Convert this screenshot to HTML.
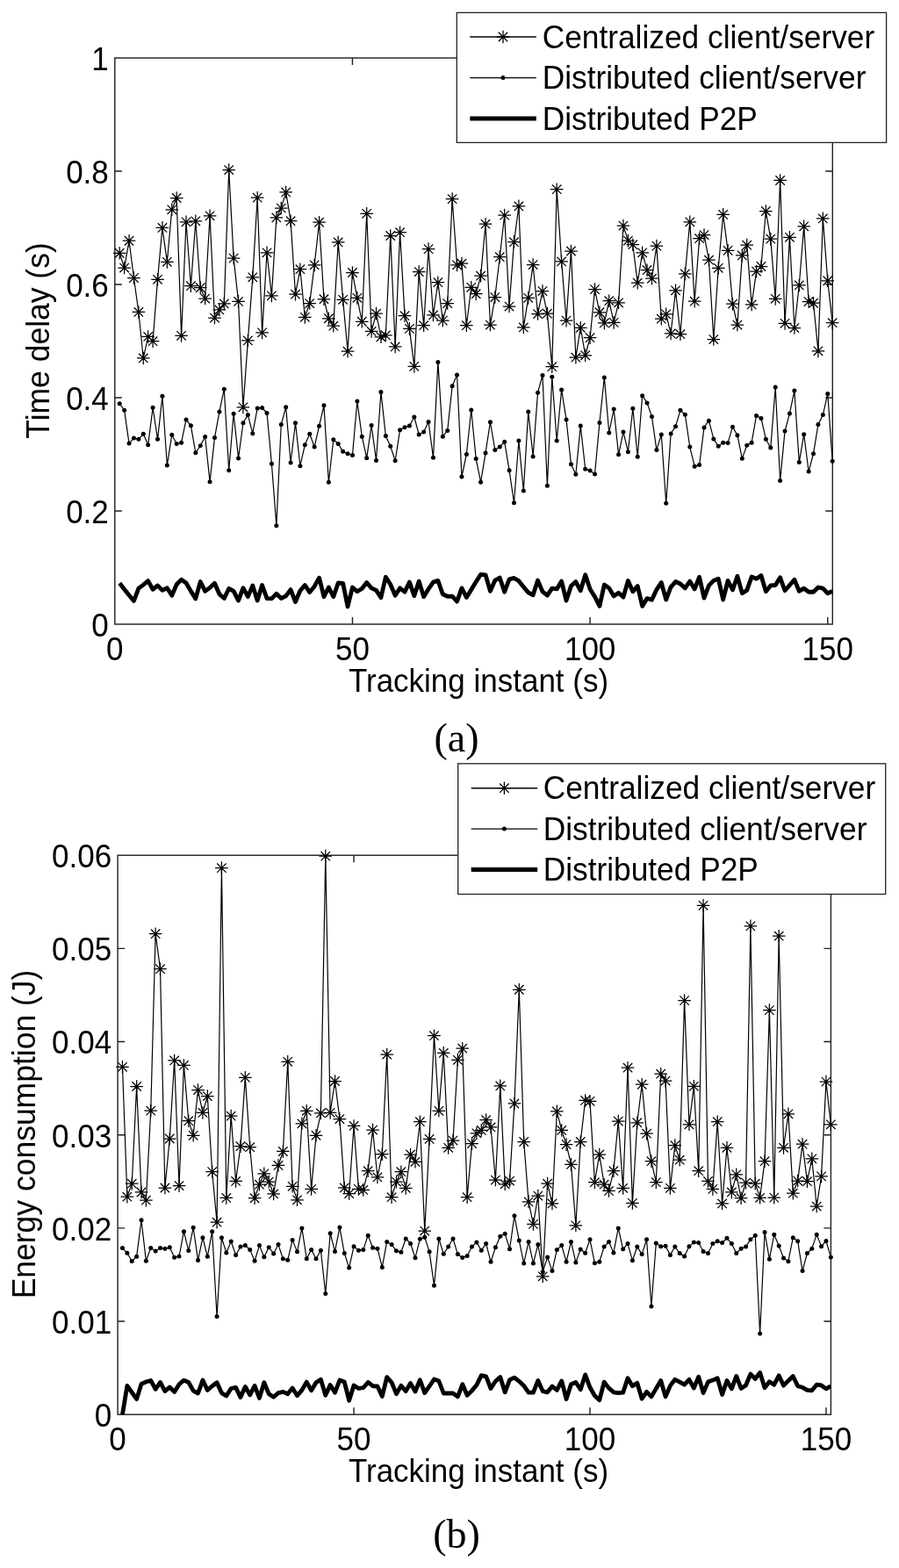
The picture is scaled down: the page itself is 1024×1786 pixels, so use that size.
<!DOCTYPE html>
<html><head><meta charset="utf-8"><title>Time delay and energy consumption</title>
<style>html,body{margin:0;padding:0;background:#fff;}svg{display:block;}</style></head>
<body><svg width="1024" height="1786" viewBox="0 0 1024 1786" font-family="'Liberation Sans', sans-serif" fill="#000">
<rect width="1024" height="1786" fill="#fff"/>
<defs>
<clipPath id="ca"><rect x="130.8" y="66" width="817.5" height="645"/></clipPath>
<clipPath id="cb"><rect x="134.1" y="974.2" width="812.3" height="637"/></clipPath>
</defs>
<g stroke="#1e1e1e" stroke-width="1.4" fill="none"><path d="M401.45 711V703M401.45 66V74"/><path d="M672.1 711V703M672.1 66V74"/><path d="M942.75 711V703M942.75 66V74"/><path d="M130.8 582H138.8M948.3 582H940.3"/><path d="M130.8 453H138.8M948.3 453H940.3"/><path d="M130.8 324H138.8M948.3 324H940.3"/><path d="M130.8 195H138.8M948.3 195H940.3"/><rect x="130.8" y="66" width="817.5" height="645" fill="none"/></g><g font-size="35"><text transform="translate(123.8 724.8) scale(1 1.04)" text-anchor="end">0</text><text transform="translate(123.8 595.8) scale(1 1.04)" text-anchor="end">0.2</text><text transform="translate(123.8 466.8) scale(1 1.04)" text-anchor="end">0.4</text><text transform="translate(123.8 337.8) scale(1 1.04)" text-anchor="end">0.6</text><text transform="translate(123.8 208.8) scale(1 1.04)" text-anchor="end">0.8</text><text transform="translate(123.8 79.8) scale(1 1.04)" text-anchor="end">1</text><text transform="translate(130.8 751.5) scale(1 1.04)" text-anchor="middle">0</text><text transform="translate(401.45 751.5) scale(1 1.04)" text-anchor="middle">50</text><text transform="translate(672.1 751.5) scale(1 1.04)" text-anchor="middle">100</text><text transform="translate(942.75 751.5) scale(1 1.04)" text-anchor="middle">150</text><text transform="translate(545 788) scale(1 1.04)" text-anchor="middle">Tracking instant (s)</text><text transform="translate(56 388) rotate(-90) scale(1 1.04)" text-anchor="middle" font-size="35.5">Time delay (s)</text><text x="520" y="855.6" text-anchor="middle" font-family="'Liberation Serif', serif" font-size="46">(a)</text></g>
<g clip-path="url(#ca)"><polyline points="136.21,288.25 141.63,305.05 147.04,274.24 152.45,316.54 157.87,355.47 163.28,407.98 168.69,383.47 174.1,388.65 179.52,318.36 184.93,259.4 190.34,298.33 195.76,238.82 201.17,225.51 206.58,382.35 212,252.82 217.41,325.64 222.82,251.84 228.23,327.74 233.65,340.06 239.06,245.82 244.47,362.05 249.89,352.94 255.3,345.94 260.71,193.58 266.12,294.13 271.54,343.42 276.95,463.85 282.36,387.95 287.78,315.84 293.19,225.23 298.6,378.85 304.02,287.83 309.43,336.84 314.84,247.92 320.25,237.13 325.67,218.93 331.08,251.7 336.49,335.16 341.91,306.73 347.32,361.35 352.73,345.52 358.15,301.83 363.56,253.24 368.97,340.76 374.38,362.75 379.8,371.15 385.21,275.92 390.62,341.32 396.04,400.14 401.45,310.51 406.86,339.36 412.28,366.25 417.69,243.3 423.1,377.45 428.52,357.15 433.93,383.75 439.34,381.93 444.75,268.5 450.17,394.96 455.58,264.72 460.99,359.67 466.41,374.37 471.82,417.36 477.23,309.53 482.65,370.73 488.06,283.63 493.47,358.97 498.88,321.72 504.3,365.13 509.71,345.52 515.12,226.63 520.54,301.83 525.95,300.15 531.36,370.73 536.78,327.32 542.19,334.74 547.6,314.15 553.01,255.2 558.43,370.03 563.84,338.52 569.25,292.73 574.67,245.12 580.08,349.02 585.49,275.64 590.9,234.89 596.32,372.97 601.73,339.36 607.14,301.55 612.56,357.57 617.97,331.52 623.38,357.15 628.8,417.64 634.21,215.71 639.62,297.91 645.04,365.13 650.45,286.01 655.86,407.14 661.27,373.25 666.69,404.76 672.1,384.73 677.51,329.56 682.93,355.75 688.34,367.93 693.75,342.72 699.16,367.37 704.58,344.82 709.99,257.02 715.4,274.1 720.82,278.73 726.23,322.14 731.64,287.83 737.06,307.71 742.47,317.24 747.88,280.13 753.3,363.17 758.71,357.85 764.12,379.97 769.53,330.82 774.95,380.67 780.36,311.91 785.77,252.82 791.19,343.14 796.6,271.72 802.01,267.52 807.42,296.23 812.84,386.55 818.25,305.33 823.66,244.42 829.08,285.31 834.49,346.22 839.9,370.03 845.32,290.91 850.73,279.15 856.14,346.92 861.56,309.11 866.97,303.51 872.38,240.5 877.79,272.14 883.21,340.34 888.62,205.49 894.03,368.35 899.45,270.32 904.86,373.53 910.27,324.94 915.68,257.86 921.1,343.56 926.51,345.24 931.92,399.86 937.34,248.9 942.75,319.76 948.16,367.65" fill="none" stroke="#000" stroke-width="1.2" stroke-linejoin="round"/><polyline points="136.21,459.74 141.63,467.3 147.04,505.11 152.45,498.95 157.87,500.35 163.28,494.33 168.69,506.65 174.1,464.22 179.52,500.35 184.93,451.34 190.34,530.04 195.76,495.31 201.17,505.53 206.58,504.13 212,477.94 217.41,484.8 222.82,515.75 228.23,507.63 233.65,497.55 239.06,548.66 244.47,498.53 249.89,469.12 255.3,443.21 260.71,535.64 266.12,471.22 271.54,521.91 276.95,481.72 282.36,472.62 287.78,493.63 293.19,464.92 298.6,464.5 304.02,470.52 309.43,528.36 314.84,598.65 320.25,483.54 325.67,463.8 331.08,526.96 336.49,481.72 341.91,530.74 347.32,506.65 352.73,494.33 358.15,509.03 363.56,485.22 368.97,461.84 374.38,549.22 379.8,500.63 385.21,505.53 390.62,514.35 396.04,516.73 401.45,518.55 406.86,456.94 412.28,497.13 417.69,521.63 423.1,484.52 428.52,524.43 433.93,446.43 439.34,496.43 444.75,508.33 450.17,524.72 455.58,489.71 460.99,486.63 466.41,484.94 471.82,475 477.23,495.03 482.65,491.95 488.06,480.6 493.47,521.35 498.88,412.41 504.3,497.13 509.71,490.41 515.12,439.71 520.54,427.11 525.95,543.06 531.36,517.43 536.78,467.02 542.19,522.61 547.6,549.22 553.01,516.03 558.43,480.74 563.84,512.53 569.25,509.03 574.67,503.15 580.08,535.64 585.49,572.75 590.9,502.03 596.32,559.02 601.73,469.12 607.14,519.95 612.56,447.13 617.97,427.53 623.38,553.14 628.8,429.21 634.21,502.03 639.62,443.91 645.04,477.94 650.45,528.64 655.86,540.26 661.27,484.94 666.69,534.24 672.1,535.92 677.51,540.12 682.93,481.44 688.34,429.91 693.75,492.93 699.16,466.04 704.58,517.85 709.99,491.95 715.4,514.63 720.82,465.2 726.23,520.23 731.64,450.64 737.06,458.9 742.47,474.44 747.88,512.53 753.3,495.03 758.71,573.17 764.12,494.05 769.53,485.64 774.95,467.3 780.36,472.34 785.77,509.03 791.19,531.16 796.6,529.62 802.01,486.91 807.42,479.2 812.84,499.93 818.25,508.33 823.66,504.13 829.08,504.41 834.49,486.35 839.9,495.73 845.32,522.33 850.73,507.21 856.14,504.13 861.56,473.46 866.97,476.4 872.38,500.21 877.79,510.01 883.21,441.11 888.62,547.54 894.03,491.11 899.45,470.94 904.86,445.03 910.27,526.54 915.68,494.75 921.1,537.04 926.51,516.73 931.92,483.54 937.34,472.62 942.75,448.54 948.16,525.14" fill="none" stroke="#000" stroke-width="1.2" stroke-linejoin="round"/><polyline points="136.21,664.3 141.63,671.18 147.04,677.92 152.45,684.51 157.87,670.15 163.28,666.05 168.69,661.66 174.1,671.33 179.52,666.93 184.93,672.35 190.34,669.72 195.76,678.21 201.17,665.76 206.58,660.19 212,664 217.41,673.38 222.82,681.87 228.23,662.54 233.65,673.38 239.06,669.42 244.47,664.3 249.89,676.75 255.3,681.58 260.71,670.45 266.12,673.38 271.54,684.07 276.95,669.72 282.36,679.68 287.78,666.93 293.19,684.07 298.6,666.49 304.02,681.58 309.43,681.87 314.84,676.31 320.25,681.58 325.67,678.94 331.08,671.62 336.49,685.53 341.91,672.79 347.32,666.49 352.73,674.55 358.15,667.96 363.56,658.14 368.97,679.68 374.38,668.98 379.8,679.68 385.21,664 390.62,664.3 396.04,690.95 401.45,668.98 406.86,673.82 412.28,670.45 417.69,663.56 423.1,669.86 428.52,672.35 433.93,680.7 439.34,657.26 444.75,665.76 450.17,678.21 455.58,669.86 460.99,674.26 466.41,663.12 471.82,678.65 477.23,662.1 482.65,679.68 488.06,670.89 493.47,663.12 498.88,661.37 504.3,676.75 509.71,679.24 515.12,679.24 520.54,685.1 525.95,669.86 531.36,680.41 536.78,671.62 542.19,662.83 547.6,654.33 553.01,654.77 558.43,673.38 563.84,661.07 569.25,658 574.67,674.26 580.08,659.9 585.49,658.44 590.9,661.66 596.32,668.4 601.73,674.84 607.14,677.77 612.56,661.07 617.97,673.82 623.38,678.21 628.8,670.15 634.21,670.89 639.62,662.1 645.04,684.07 650.45,667.52 655.86,662.54 661.27,672.79 666.69,654.77 672.1,670.89 677.51,679.68 682.93,690.37 688.34,666.05 693.75,669.86 699.16,678.94 704.58,675.28 709.99,680.11 715.4,661.51 720.82,673.82 726.23,667.52 731.64,690.37 737.06,681.58 742.47,683.34 747.88,671.62 753.3,663.56 758.71,683.04 764.12,668.69 769.53,662.54 774.95,665.03 780.36,669.86 785.77,662.1 791.19,670.89 796.6,657.26 802.01,681.14 807.42,666.93 812.84,661.37 818.25,659.17 823.66,683.04 829.08,661.37 834.49,671.91 839.9,656.24 845.32,675.72 850.73,672.35 856.14,656.97 861.56,659.17 866.97,655.51 872.38,673.82 877.79,666.93 883.21,666.49 888.62,657.7 894.03,672.79 899.45,666.49 904.86,660.19 910.27,673.38 915.68,670.15 921.1,674.26 926.51,674.26 931.92,668.98 937.34,670.15 942.75,675.72 948.16,673.38" fill="none" stroke="#000" stroke-width="4.8" stroke-linejoin="round"/></g>
<path d="M128.91 288.25h14.6M136.21 280.95v14.6M131.01 283.05l10.4 10.4M131.01 293.45l10.4 -10.4M134.33 305.05h14.6M141.63 297.75v14.6M136.43 299.85l10.4 10.4M136.43 310.25l10.4 -10.4M139.74 274.24h14.6M147.04 266.94v14.6M141.84 269.04l10.4 10.4M141.84 279.44l10.4 -10.4M145.15 316.54h14.6M152.45 309.24v14.6M147.25 311.34l10.4 10.4M147.25 321.74l10.4 -10.4M150.56 355.47h14.6M157.87 348.17v14.6M152.67 350.27l10.4 10.4M152.67 360.67l10.4 -10.4M155.98 407.98h14.6M163.28 400.68v14.6M158.08 402.78l10.4 10.4M158.08 413.18l10.4 -10.4M161.39 383.47h14.6M168.69 376.17v14.6M163.49 378.27l10.4 10.4M163.49 388.67l10.4 -10.4M166.8 388.65h14.6M174.1 381.35v14.6M168.9 383.45l10.4 10.4M168.9 393.85l10.4 -10.4M172.22 318.36h14.6M179.52 311.06v14.6M174.32 313.16l10.4 10.4M174.32 323.56l10.4 -10.4M177.63 259.4h14.6M184.93 252.1v14.6M179.73 254.2l10.4 10.4M179.73 264.6l10.4 -10.4M183.04 298.33h14.6M190.34 291.03v14.6M185.14 293.13l10.4 10.4M185.14 303.53l10.4 -10.4M188.46 238.82h14.6M195.76 231.52v14.6M190.56 233.62l10.4 10.4M190.56 244.02l10.4 -10.4M193.87 225.51h14.6M201.17 218.21v14.6M195.97 220.31l10.4 10.4M195.97 230.71l10.4 -10.4M199.28 382.35h14.6M206.58 375.05v14.6M201.38 377.15l10.4 10.4M201.38 387.55l10.4 -10.4M204.69 252.82h14.6M212 245.52v14.6M206.8 247.62l10.4 10.4M206.8 258.02l10.4 -10.4M210.11 325.64h14.6M217.41 318.34v14.6M212.21 320.44l10.4 10.4M212.21 330.84l10.4 -10.4M215.52 251.84h14.6M222.82 244.54v14.6M217.62 246.64l10.4 10.4M217.62 257.04l10.4 -10.4M220.93 327.74h14.6M228.23 320.44v14.6M223.03 322.54l10.4 10.4M223.03 332.94l10.4 -10.4M226.35 340.06h14.6M233.65 332.76v14.6M228.45 334.86l10.4 10.4M228.45 345.26l10.4 -10.4M231.76 245.82h14.6M239.06 238.52v14.6M233.86 240.62l10.4 10.4M233.86 251.02l10.4 -10.4M237.17 362.05h14.6M244.47 354.75v14.6M239.27 356.85l10.4 10.4M239.27 367.25l10.4 -10.4M242.59 352.94h14.6M249.89 345.64v14.6M244.69 347.74l10.4 10.4M244.69 358.14l10.4 -10.4M248 345.94h14.6M255.3 338.64v14.6M250.1 340.74l10.4 10.4M250.1 351.14l10.4 -10.4M253.41 193.58h14.6M260.71 186.28v14.6M255.51 188.38l10.4 10.4M255.51 198.78l10.4 -10.4M258.82 294.13h14.6M266.12 286.83v14.6M260.93 288.93l10.4 10.4M260.93 299.33l10.4 -10.4M264.24 343.42h14.6M271.54 336.12v14.6M266.34 338.22l10.4 10.4M266.34 348.62l10.4 -10.4M269.65 463.85h14.6M276.95 456.55v14.6M271.75 458.65l10.4 10.4M271.75 469.05l10.4 -10.4M275.06 387.95h14.6M282.36 380.65v14.6M277.16 382.75l10.4 10.4M277.16 393.15l10.4 -10.4M280.48 315.84h14.6M287.78 308.54v14.6M282.58 310.64l10.4 10.4M282.58 321.04l10.4 -10.4M285.89 225.23h14.6M293.19 217.93v14.6M287.99 220.03l10.4 10.4M287.99 230.43l10.4 -10.4M291.3 378.85h14.6M298.6 371.55v14.6M293.4 373.65l10.4 10.4M293.4 384.05l10.4 -10.4M296.72 287.83h14.6M304.02 280.53v14.6M298.82 282.63l10.4 10.4M298.82 293.03l10.4 -10.4M302.13 336.84h14.6M309.43 329.54v14.6M304.23 331.64l10.4 10.4M304.23 342.04l10.4 -10.4M307.54 247.92h14.6M314.84 240.62v14.6M309.64 242.72l10.4 10.4M309.64 253.12l10.4 -10.4M312.95 237.13h14.6M320.25 229.83v14.6M315.06 231.93l10.4 10.4M315.06 242.33l10.4 -10.4M318.37 218.93h14.6M325.67 211.63v14.6M320.47 213.73l10.4 10.4M320.47 224.13l10.4 -10.4M323.78 251.7h14.6M331.08 244.4v14.6M325.88 246.5l10.4 10.4M325.88 256.9l10.4 -10.4M329.19 335.16h14.6M336.49 327.86v14.6M331.29 329.96l10.4 10.4M331.29 340.36l10.4 -10.4M334.61 306.73h14.6M341.91 299.43v14.6M336.71 301.53l10.4 10.4M336.71 311.93l10.4 -10.4M340.02 361.35h14.6M347.32 354.05v14.6M342.12 356.15l10.4 10.4M342.12 366.55l10.4 -10.4M345.43 345.52h14.6M352.73 338.22v14.6M347.53 340.32l10.4 10.4M347.53 350.72l10.4 -10.4M350.85 301.83h14.6M358.15 294.53v14.6M352.95 296.63l10.4 10.4M352.95 307.03l10.4 -10.4M356.26 253.24h14.6M363.56 245.94v14.6M358.36 248.04l10.4 10.4M358.36 258.44l10.4 -10.4M361.67 340.76h14.6M368.97 333.46v14.6M363.77 335.56l10.4 10.4M363.77 345.96l10.4 -10.4M367.08 362.75h14.6M374.38 355.45v14.6M369.19 357.55l10.4 10.4M369.19 367.95l10.4 -10.4M372.5 371.15h14.6M379.8 363.85v14.6M374.6 365.95l10.4 10.4M374.6 376.35l10.4 -10.4M377.91 275.92h14.6M385.21 268.62v14.6M380.01 270.72l10.4 10.4M380.01 281.12l10.4 -10.4M383.32 341.32h14.6M390.62 334.02v14.6M385.42 336.12l10.4 10.4M385.42 346.52l10.4 -10.4M388.74 400.14h14.6M396.04 392.84v14.6M390.84 394.94l10.4 10.4M390.84 405.34l10.4 -10.4M394.15 310.51h14.6M401.45 303.21v14.6M396.25 305.31l10.4 10.4M396.25 315.71l10.4 -10.4M399.56 339.36h14.6M406.86 332.06v14.6M401.66 334.16l10.4 10.4M401.66 344.56l10.4 -10.4M404.98 366.25h14.6M412.28 358.95v14.6M407.08 361.05l10.4 10.4M407.08 371.45l10.4 -10.4M410.39 243.3h14.6M417.69 236v14.6M412.49 238.1l10.4 10.4M412.49 248.5l10.4 -10.4M415.8 377.45h14.6M423.1 370.15v14.6M417.9 372.25l10.4 10.4M417.9 382.65l10.4 -10.4M421.22 357.15h14.6M428.52 349.85v14.6M423.32 351.95l10.4 10.4M423.32 362.35l10.4 -10.4M426.63 383.75h14.6M433.93 376.45v14.6M428.73 378.55l10.4 10.4M428.73 388.95l10.4 -10.4M432.04 381.93h14.6M439.34 374.63v14.6M434.14 376.73l10.4 10.4M434.14 387.13l10.4 -10.4M437.45 268.5h14.6M444.75 261.2v14.6M439.55 263.3l10.4 10.4M439.55 273.7l10.4 -10.4M442.87 394.96h14.6M450.17 387.66v14.6M444.97 389.76l10.4 10.4M444.97 400.16l10.4 -10.4M448.28 264.72h14.6M455.58 257.42v14.6M450.38 259.52l10.4 10.4M450.38 269.92l10.4 -10.4M453.69 359.67h14.6M460.99 352.37v14.6M455.79 354.47l10.4 10.4M455.79 364.87l10.4 -10.4M459.11 374.37h14.6M466.41 367.07v14.6M461.21 369.17l10.4 10.4M461.21 379.57l10.4 -10.4M464.52 417.36h14.6M471.82 410.06v14.6M466.62 412.16l10.4 10.4M466.62 422.56l10.4 -10.4M469.93 309.53h14.6M477.23 302.23v14.6M472.03 304.33l10.4 10.4M472.03 314.73l10.4 -10.4M475.35 370.73h14.6M482.65 363.43v14.6M477.45 365.53l10.4 10.4M477.45 375.93l10.4 -10.4M480.76 283.63h14.6M488.06 276.33v14.6M482.86 278.43l10.4 10.4M482.86 288.83l10.4 -10.4M486.17 358.97h14.6M493.47 351.67v14.6M488.27 353.77l10.4 10.4M488.27 364.17l10.4 -10.4M491.58 321.72h14.6M498.88 314.42v14.6M493.68 316.52l10.4 10.4M493.68 326.92l10.4 -10.4M497 365.13h14.6M504.3 357.83v14.6M499.1 359.93l10.4 10.4M499.1 370.33l10.4 -10.4M502.41 345.52h14.6M509.71 338.22v14.6M504.51 340.32l10.4 10.4M504.51 350.72l10.4 -10.4M507.82 226.63h14.6M515.12 219.33v14.6M509.92 221.43l10.4 10.4M509.92 231.83l10.4 -10.4M513.24 301.83h14.6M520.54 294.53v14.6M515.34 296.63l10.4 10.4M515.34 307.03l10.4 -10.4M518.65 300.15h14.6M525.95 292.85v14.6M520.75 294.95l10.4 10.4M520.75 305.35l10.4 -10.4M524.06 370.73h14.6M531.36 363.43v14.6M526.16 365.53l10.4 10.4M526.16 375.93l10.4 -10.4M529.48 327.32h14.6M536.78 320.02v14.6M531.58 322.12l10.4 10.4M531.58 332.52l10.4 -10.4M534.89 334.74h14.6M542.19 327.44v14.6M536.99 329.54l10.4 10.4M536.99 339.94l10.4 -10.4M540.3 314.15h14.6M547.6 306.85v14.6M542.4 308.95l10.4 10.4M542.4 319.35l10.4 -10.4M545.71 255.2h14.6M553.01 247.9v14.6M547.81 250l10.4 10.4M547.81 260.4l10.4 -10.4M551.13 370.03h14.6M558.43 362.73v14.6M553.23 364.83l10.4 10.4M553.23 375.23l10.4 -10.4M556.54 338.52h14.6M563.84 331.22v14.6M558.64 333.32l10.4 10.4M558.64 343.72l10.4 -10.4M561.95 292.73h14.6M569.25 285.43v14.6M564.05 287.53l10.4 10.4M564.05 297.93l10.4 -10.4M567.37 245.12h14.6M574.67 237.82v14.6M569.47 239.92l10.4 10.4M569.47 250.32l10.4 -10.4M572.78 349.02h14.6M580.08 341.72v14.6M574.88 343.82l10.4 10.4M574.88 354.22l10.4 -10.4M578.19 275.64h14.6M585.49 268.34v14.6M580.29 270.44l10.4 10.4M580.29 280.84l10.4 -10.4M583.61 234.89h14.6M590.9 227.59v14.6M585.7 229.69l10.4 10.4M585.7 240.09l10.4 -10.4M589.02 372.97h14.6M596.32 365.67v14.6M591.12 367.77l10.4 10.4M591.12 378.17l10.4 -10.4M594.43 339.36h14.6M601.73 332.06v14.6M596.53 334.16l10.4 10.4M596.53 344.56l10.4 -10.4M599.84 301.55h14.6M607.14 294.25v14.6M601.94 296.35l10.4 10.4M601.94 306.75l10.4 -10.4M605.26 357.57h14.6M612.56 350.27v14.6M607.36 352.37l10.4 10.4M607.36 362.77l10.4 -10.4M610.67 331.52h14.6M617.97 324.22v14.6M612.77 326.32l10.4 10.4M612.77 336.72l10.4 -10.4M616.08 357.15h14.6M623.38 349.85v14.6M618.18 351.95l10.4 10.4M618.18 362.35l10.4 -10.4M621.5 417.64h14.6M628.8 410.34v14.6M623.6 412.44l10.4 10.4M623.6 422.84l10.4 -10.4M626.91 215.71h14.6M634.21 208.41v14.6M629.01 210.51l10.4 10.4M629.01 220.91l10.4 -10.4M632.32 297.91h14.6M639.62 290.61v14.6M634.42 292.71l10.4 10.4M634.42 303.11l10.4 -10.4M637.74 365.13h14.6M645.04 357.83v14.6M639.84 359.93l10.4 10.4M639.84 370.33l10.4 -10.4M643.15 286.01h14.6M650.45 278.71v14.6M645.25 280.81l10.4 10.4M645.25 291.21l10.4 -10.4M648.56 407.14h14.6M655.86 399.84v14.6M650.66 401.94l10.4 10.4M650.66 412.34l10.4 -10.4M653.97 373.25h14.6M661.27 365.95v14.6M656.07 368.05l10.4 10.4M656.07 378.45l10.4 -10.4M659.39 404.76h14.6M666.69 397.46v14.6M661.49 399.56l10.4 10.4M661.49 409.96l10.4 -10.4M664.8 384.73h14.6M672.1 377.43v14.6M666.9 379.53l10.4 10.4M666.9 389.93l10.4 -10.4M670.21 329.56h14.6M677.51 322.26v14.6M672.31 324.36l10.4 10.4M672.31 334.76l10.4 -10.4M675.63 355.75h14.6M682.93 348.45v14.6M677.73 350.55l10.4 10.4M677.73 360.95l10.4 -10.4M681.04 367.93h14.6M688.34 360.63v14.6M683.14 362.73l10.4 10.4M683.14 373.13l10.4 -10.4M686.45 342.72h14.6M693.75 335.42v14.6M688.55 337.52l10.4 10.4M688.55 347.92l10.4 -10.4M691.87 367.37h14.6M699.16 360.07v14.6M693.96 362.17l10.4 10.4M693.96 372.57l10.4 -10.4M697.28 344.82h14.6M704.58 337.52v14.6M699.38 339.62l10.4 10.4M699.38 350.02l10.4 -10.4M702.69 257.02h14.6M709.99 249.72v14.6M704.79 251.82l10.4 10.4M704.79 262.22l10.4 -10.4M708.1 274.1h14.6M715.4 266.8v14.6M710.2 268.9l10.4 10.4M710.2 279.3l10.4 -10.4M713.52 278.73h14.6M720.82 271.43v14.6M715.62 273.53l10.4 10.4M715.62 283.93l10.4 -10.4M718.93 322.14h14.6M726.23 314.84v14.6M721.03 316.94l10.4 10.4M721.03 327.34l10.4 -10.4M724.34 287.83h14.6M731.64 280.53v14.6M726.44 282.63l10.4 10.4M726.44 293.03l10.4 -10.4M729.76 307.71h14.6M737.06 300.41v14.6M731.86 302.51l10.4 10.4M731.86 312.91l10.4 -10.4M735.17 317.24h14.6M742.47 309.94v14.6M737.27 312.04l10.4 10.4M737.27 322.44l10.4 -10.4M740.58 280.13h14.6M747.88 272.83v14.6M742.68 274.93l10.4 10.4M742.68 285.33l10.4 -10.4M746 363.17h14.6M753.3 355.87v14.6M748.1 357.97l10.4 10.4M748.1 368.37l10.4 -10.4M751.41 357.85h14.6M758.71 350.55v14.6M753.51 352.65l10.4 10.4M753.51 363.05l10.4 -10.4M756.82 379.97h14.6M764.12 372.67v14.6M758.92 374.77l10.4 10.4M758.92 385.17l10.4 -10.4M762.23 330.82h14.6M769.53 323.52v14.6M764.33 325.62l10.4 10.4M764.33 336.02l10.4 -10.4M767.65 380.67h14.6M774.95 373.37v14.6M769.75 375.47l10.4 10.4M769.75 385.87l10.4 -10.4M773.06 311.91h14.6M780.36 304.61v14.6M775.16 306.71l10.4 10.4M775.16 317.11l10.4 -10.4M778.47 252.82h14.6M785.77 245.52v14.6M780.57 247.62l10.4 10.4M780.57 258.02l10.4 -10.4M783.89 343.14h14.6M791.19 335.84v14.6M785.99 337.94l10.4 10.4M785.99 348.34l10.4 -10.4M789.3 271.72h14.6M796.6 264.42v14.6M791.4 266.52l10.4 10.4M791.4 276.92l10.4 -10.4M794.71 267.52h14.6M802.01 260.22v14.6M796.81 262.32l10.4 10.4M796.81 272.72l10.4 -10.4M800.12 296.23h14.6M807.42 288.93v14.6M802.22 291.03l10.4 10.4M802.22 301.43l10.4 -10.4M805.54 386.55h14.6M812.84 379.25v14.6M807.64 381.35l10.4 10.4M807.64 391.75l10.4 -10.4M810.95 305.33h14.6M818.25 298.03v14.6M813.05 300.13l10.4 10.4M813.05 310.53l10.4 -10.4M816.36 244.42h14.6M823.66 237.12v14.6M818.46 239.22l10.4 10.4M818.46 249.62l10.4 -10.4M821.78 285.31h14.6M829.08 278.01v14.6M823.88 280.11l10.4 10.4M823.88 290.51l10.4 -10.4M827.19 346.22h14.6M834.49 338.92v14.6M829.29 341.02l10.4 10.4M829.29 351.42l10.4 -10.4M832.6 370.03h14.6M839.9 362.73v14.6M834.7 364.83l10.4 10.4M834.7 375.23l10.4 -10.4M838.02 290.91h14.6M845.32 283.61v14.6M840.12 285.71l10.4 10.4M840.12 296.11l10.4 -10.4M843.43 279.15h14.6M850.73 271.85v14.6M845.53 273.95l10.4 10.4M845.53 284.35l10.4 -10.4M848.84 346.92h14.6M856.14 339.62v14.6M850.94 341.72l10.4 10.4M850.94 352.12l10.4 -10.4M854.26 309.11h14.6M861.56 301.81v14.6M856.36 303.91l10.4 10.4M856.36 314.31l10.4 -10.4M859.67 303.51h14.6M866.97 296.21v14.6M861.77 298.31l10.4 10.4M861.77 308.71l10.4 -10.4M865.08 240.5h14.6M872.38 233.2v14.6M867.18 235.3l10.4 10.4M867.18 245.7l10.4 -10.4M870.49 272.14h14.6M877.79 264.84v14.6M872.59 266.94l10.4 10.4M872.59 277.34l10.4 -10.4M875.91 340.34h14.6M883.21 333.04v14.6M878.01 335.14l10.4 10.4M878.01 345.54l10.4 -10.4M881.32 205.49h14.6M888.62 198.19v14.6M883.42 200.29l10.4 10.4M883.42 210.69l10.4 -10.4M886.73 368.35h14.6M894.03 361.05v14.6M888.83 363.15l10.4 10.4M888.83 373.55l10.4 -10.4M892.15 270.32h14.6M899.45 263.02v14.6M894.25 265.12l10.4 10.4M894.25 275.52l10.4 -10.4M897.56 373.53h14.6M904.86 366.23v14.6M899.66 368.33l10.4 10.4M899.66 378.73l10.4 -10.4M902.97 324.94h14.6M910.27 317.64v14.6M905.07 319.74l10.4 10.4M905.07 330.14l10.4 -10.4M908.38 257.86h14.6M915.68 250.56v14.6M910.48 252.66l10.4 10.4M910.48 263.06l10.4 -10.4M913.8 343.56h14.6M921.1 336.26v14.6M915.9 338.36l10.4 10.4M915.9 348.76l10.4 -10.4M919.21 345.24h14.6M926.51 337.94v14.6M921.31 340.04l10.4 10.4M921.31 350.44l10.4 -10.4M924.62 399.86h14.6M931.92 392.56v14.6M926.72 394.66l10.4 10.4M926.72 405.06l10.4 -10.4M930.04 248.9h14.6M937.34 241.6v14.6M932.14 243.7l10.4 10.4M932.14 254.1l10.4 -10.4M935.45 319.76h14.6M942.75 312.46v14.6M937.55 314.56l10.4 10.4M937.55 324.96l10.4 -10.4M940.86 367.65h14.6M948.16 360.35v14.6M942.96 362.45l10.4 10.4M942.96 372.85l10.4 -10.4" stroke="#000" stroke-width="1.25" fill="none"/><g fill="#000"><circle cx="136.21" cy="459.74" r="2.5"/><circle cx="141.63" cy="467.3" r="2.5"/><circle cx="147.04" cy="505.11" r="2.5"/><circle cx="152.45" cy="498.95" r="2.5"/><circle cx="157.87" cy="500.35" r="2.5"/><circle cx="163.28" cy="494.33" r="2.5"/><circle cx="168.69" cy="506.65" r="2.5"/><circle cx="174.1" cy="464.22" r="2.5"/><circle cx="179.52" cy="500.35" r="2.5"/><circle cx="184.93" cy="451.34" r="2.5"/><circle cx="190.34" cy="530.04" r="2.5"/><circle cx="195.76" cy="495.31" r="2.5"/><circle cx="201.17" cy="505.53" r="2.5"/><circle cx="206.58" cy="504.13" r="2.5"/><circle cx="212" cy="477.94" r="2.5"/><circle cx="217.41" cy="484.8" r="2.5"/><circle cx="222.82" cy="515.75" r="2.5"/><circle cx="228.23" cy="507.63" r="2.5"/><circle cx="233.65" cy="497.55" r="2.5"/><circle cx="239.06" cy="548.66" r="2.5"/><circle cx="244.47" cy="498.53" r="2.5"/><circle cx="249.89" cy="469.12" r="2.5"/><circle cx="255.3" cy="443.21" r="2.5"/><circle cx="260.71" cy="535.64" r="2.5"/><circle cx="266.12" cy="471.22" r="2.5"/><circle cx="271.54" cy="521.91" r="2.5"/><circle cx="276.95" cy="481.72" r="2.5"/><circle cx="282.36" cy="472.62" r="2.5"/><circle cx="287.78" cy="493.63" r="2.5"/><circle cx="293.19" cy="464.92" r="2.5"/><circle cx="298.6" cy="464.5" r="2.5"/><circle cx="304.02" cy="470.52" r="2.5"/><circle cx="309.43" cy="528.36" r="2.5"/><circle cx="314.84" cy="598.65" r="2.5"/><circle cx="320.25" cy="483.54" r="2.5"/><circle cx="325.67" cy="463.8" r="2.5"/><circle cx="331.08" cy="526.96" r="2.5"/><circle cx="336.49" cy="481.72" r="2.5"/><circle cx="341.91" cy="530.74" r="2.5"/><circle cx="347.32" cy="506.65" r="2.5"/><circle cx="352.73" cy="494.33" r="2.5"/><circle cx="358.15" cy="509.03" r="2.5"/><circle cx="363.56" cy="485.22" r="2.5"/><circle cx="368.97" cy="461.84" r="2.5"/><circle cx="374.38" cy="549.22" r="2.5"/><circle cx="379.8" cy="500.63" r="2.5"/><circle cx="385.21" cy="505.53" r="2.5"/><circle cx="390.62" cy="514.35" r="2.5"/><circle cx="396.04" cy="516.73" r="2.5"/><circle cx="401.45" cy="518.55" r="2.5"/><circle cx="406.86" cy="456.94" r="2.5"/><circle cx="412.28" cy="497.13" r="2.5"/><circle cx="417.69" cy="521.63" r="2.5"/><circle cx="423.1" cy="484.52" r="2.5"/><circle cx="428.52" cy="524.43" r="2.5"/><circle cx="433.93" cy="446.43" r="2.5"/><circle cx="439.34" cy="496.43" r="2.5"/><circle cx="444.75" cy="508.33" r="2.5"/><circle cx="450.17" cy="524.72" r="2.5"/><circle cx="455.58" cy="489.71" r="2.5"/><circle cx="460.99" cy="486.63" r="2.5"/><circle cx="466.41" cy="484.94" r="2.5"/><circle cx="471.82" cy="475" r="2.5"/><circle cx="477.23" cy="495.03" r="2.5"/><circle cx="482.65" cy="491.95" r="2.5"/><circle cx="488.06" cy="480.6" r="2.5"/><circle cx="493.47" cy="521.35" r="2.5"/><circle cx="498.88" cy="412.41" r="2.5"/><circle cx="504.3" cy="497.13" r="2.5"/><circle cx="509.71" cy="490.41" r="2.5"/><circle cx="515.12" cy="439.71" r="2.5"/><circle cx="520.54" cy="427.11" r="2.5"/><circle cx="525.95" cy="543.06" r="2.5"/><circle cx="531.36" cy="517.43" r="2.5"/><circle cx="536.78" cy="467.02" r="2.5"/><circle cx="542.19" cy="522.61" r="2.5"/><circle cx="547.6" cy="549.22" r="2.5"/><circle cx="553.01" cy="516.03" r="2.5"/><circle cx="558.43" cy="480.74" r="2.5"/><circle cx="563.84" cy="512.53" r="2.5"/><circle cx="569.25" cy="509.03" r="2.5"/><circle cx="574.67" cy="503.15" r="2.5"/><circle cx="580.08" cy="535.64" r="2.5"/><circle cx="585.49" cy="572.75" r="2.5"/><circle cx="590.9" cy="502.03" r="2.5"/><circle cx="596.32" cy="559.02" r="2.5"/><circle cx="601.73" cy="469.12" r="2.5"/><circle cx="607.14" cy="519.95" r="2.5"/><circle cx="612.56" cy="447.13" r="2.5"/><circle cx="617.97" cy="427.53" r="2.5"/><circle cx="623.38" cy="553.14" r="2.5"/><circle cx="628.8" cy="429.21" r="2.5"/><circle cx="634.21" cy="502.03" r="2.5"/><circle cx="639.62" cy="443.91" r="2.5"/><circle cx="645.04" cy="477.94" r="2.5"/><circle cx="650.45" cy="528.64" r="2.5"/><circle cx="655.86" cy="540.26" r="2.5"/><circle cx="661.27" cy="484.94" r="2.5"/><circle cx="666.69" cy="534.24" r="2.5"/><circle cx="672.1" cy="535.92" r="2.5"/><circle cx="677.51" cy="540.12" r="2.5"/><circle cx="682.93" cy="481.44" r="2.5"/><circle cx="688.34" cy="429.91" r="2.5"/><circle cx="693.75" cy="492.93" r="2.5"/><circle cx="699.16" cy="466.04" r="2.5"/><circle cx="704.58" cy="517.85" r="2.5"/><circle cx="709.99" cy="491.95" r="2.5"/><circle cx="715.4" cy="514.63" r="2.5"/><circle cx="720.82" cy="465.2" r="2.5"/><circle cx="726.23" cy="520.23" r="2.5"/><circle cx="731.64" cy="450.64" r="2.5"/><circle cx="737.06" cy="458.9" r="2.5"/><circle cx="742.47" cy="474.44" r="2.5"/><circle cx="747.88" cy="512.53" r="2.5"/><circle cx="753.3" cy="495.03" r="2.5"/><circle cx="758.71" cy="573.17" r="2.5"/><circle cx="764.12" cy="494.05" r="2.5"/><circle cx="769.53" cy="485.64" r="2.5"/><circle cx="774.95" cy="467.3" r="2.5"/><circle cx="780.36" cy="472.34" r="2.5"/><circle cx="785.77" cy="509.03" r="2.5"/><circle cx="791.19" cy="531.16" r="2.5"/><circle cx="796.6" cy="529.62" r="2.5"/><circle cx="802.01" cy="486.91" r="2.5"/><circle cx="807.42" cy="479.2" r="2.5"/><circle cx="812.84" cy="499.93" r="2.5"/><circle cx="818.25" cy="508.33" r="2.5"/><circle cx="823.66" cy="504.13" r="2.5"/><circle cx="829.08" cy="504.41" r="2.5"/><circle cx="834.49" cy="486.35" r="2.5"/><circle cx="839.9" cy="495.73" r="2.5"/><circle cx="845.32" cy="522.33" r="2.5"/><circle cx="850.73" cy="507.21" r="2.5"/><circle cx="856.14" cy="504.13" r="2.5"/><circle cx="861.56" cy="473.46" r="2.5"/><circle cx="866.97" cy="476.4" r="2.5"/><circle cx="872.38" cy="500.21" r="2.5"/><circle cx="877.79" cy="510.01" r="2.5"/><circle cx="883.21" cy="441.11" r="2.5"/><circle cx="888.62" cy="547.54" r="2.5"/><circle cx="894.03" cy="491.11" r="2.5"/><circle cx="899.45" cy="470.94" r="2.5"/><circle cx="904.86" cy="445.03" r="2.5"/><circle cx="910.27" cy="526.54" r="2.5"/><circle cx="915.68" cy="494.75" r="2.5"/><circle cx="921.1" cy="537.04" r="2.5"/><circle cx="926.51" cy="516.73" r="2.5"/><circle cx="931.92" cy="483.54" r="2.5"/><circle cx="937.34" cy="472.62" r="2.5"/><circle cx="942.75" cy="448.54" r="2.5"/><circle cx="948.16" cy="525.14" r="2.5"/></g>
<rect x="520.3" y="14.4" width="489.3" height="148" fill="#fff" stroke="#222" stroke-width="1.3"/><path d="M535.3 42H610.8M535.3 88.6H610.8" stroke="#000" stroke-width="1.4"/><path d="M565.7 42h14.6M573 34.7v14.6M567.8 36.8l10.4 10.4M567.8 47.2l10.4 -10.4" stroke="#000" stroke-width="1.25" fill="none"/><circle cx="573" cy="88.6" r="2.5" fill="#000"/><path d="M535.3 135H610.8" stroke="#000" stroke-width="5"/><text transform="translate(617.7 54.5) scale(1 1.04)" font-size="35.3">Centralized client/server</text><text transform="translate(617.7 101.1) scale(1 1.04)" font-size="35.3">Distributed client/server</text><text transform="translate(617.7 147.5) scale(1 1.04)" font-size="35.3">Distributed P2P</text>
<g stroke="#1e1e1e" stroke-width="1.4" fill="none"><path d="M403.05 1611.2V1603.2M403.05 974.2V982.2"/><path d="M672 1611.2V1603.2M672 974.2V982.2"/><path d="M940.95 1611.2V1603.2M940.95 974.2V982.2"/><path d="M134.1 1505.03H142.1M946.4 1505.03H938.4"/><path d="M134.1 1398.87H142.1M946.4 1398.87H938.4"/><path d="M134.1 1292.7H142.1M946.4 1292.7H938.4"/><path d="M134.1 1186.53H142.1M946.4 1186.53H938.4"/><path d="M134.1 1080.37H142.1M946.4 1080.37H938.4"/><rect x="134.1" y="974.2" width="812.3" height="637" fill="none"/></g><g font-size="35"><text transform="translate(127.1 1625) scale(1 1.04)" text-anchor="end">0</text><text transform="translate(127.1 1518.83) scale(1 1.04)" text-anchor="end">0.01</text><text transform="translate(127.1 1412.67) scale(1 1.04)" text-anchor="end">0.02</text><text transform="translate(127.1 1306.5) scale(1 1.04)" text-anchor="end">0.03</text><text transform="translate(127.1 1200.33) scale(1 1.04)" text-anchor="end">0.04</text><text transform="translate(127.1 1094.17) scale(1 1.04)" text-anchor="end">0.05</text><text transform="translate(127.1 988) scale(1 1.04)" text-anchor="end">0.06</text><text transform="translate(134.1 1651.7) scale(1 1.04)" text-anchor="middle">0</text><text transform="translate(403.05 1651.7) scale(1 1.04)" text-anchor="middle">50</text><text transform="translate(672 1651.7) scale(1 1.04)" text-anchor="middle">100</text><text transform="translate(940.95 1651.7) scale(1 1.04)" text-anchor="middle">150</text><text transform="translate(545 1688) scale(1 1.04)" text-anchor="middle">Tracking instant (s)</text><text transform="translate(40 1292) rotate(-90) scale(1 1.04)" text-anchor="middle" font-size="35.5">Energy consumption (J)</text><text x="520" y="1762.6" text-anchor="middle" font-family="'Liberation Serif', serif" font-size="46">(b)</text></g>
<g clip-path="url(#cb)"><polyline points="139.48,1215.33 144.86,1363.17 150.24,1348.2 155.62,1237.5 161,1357.99 166.37,1367.23 171.75,1265.22 177.13,1063.69 182.51,1103.68 187.89,1353 193.27,1297.01 198.65,1207.93 204.03,1350.6 209.41,1213.48 214.78,1276.68 220.16,1293.31 225.54,1241.57 230.92,1267.44 236.3,1248.59 241.68,1334.52 247.06,1392.18 252.44,988.65 257.82,1364.46 263.2,1271.14 268.57,1345.47 273.95,1305.69 279.33,1227.36 284.71,1306.72 290.09,1364.74 295.47,1349.2 300.85,1336.77 306.23,1346.09 311.61,1359.97 316.99,1327.44 322.37,1311.49 327.74,1209.34 333.12,1351.27 338.5,1366.81 343.88,1279.79 349.26,1265.28 354.64,1354.38 360.02,1293.25 365.4,1267.98 370.78,975.17 376.15,1267.35 381.53,1231.51 386.91,1274.61 392.29,1352.93 397.67,1359.56 403.05,1282.48 408.43,1354.38 413.81,1355.41 419.19,1333.66 424.57,1287.04 429.94,1340.91 435.32,1314.6 440.7,1201.05 446.08,1363.7 451.46,1346.09 456.84,1334.69 462.22,1353.34 467.6,1315.01 472.98,1323.3 478.36,1277.71 483.74,1402.03 489.11,1297.4 494.49,1179.71 499.87,1265.28 505.25,1199.39 510.63,1307.34 516.01,1299.06 521.39,1207.27 526.77,1194.21 532.15,1363.7 537.52,1302.58 542.9,1290.77 548.28,1287.45 553.66,1275.64 559.04,1283.93 564.42,1344.02 569.8,1236.9 575.18,1348.78 580.56,1345.05 585.94,1256.99 591.31,1127.26 596.69,1300.51 602.07,1368.88 607.45,1394.37 612.83,1362.04 618.21,1453.83 623.59,1348.16 628.97,1370.95 634.35,1265.9 639.73,1287.45 645.1,1303.61 650.48,1326.41 655.86,1395.82 661.24,1300.51 666.62,1253.47 672,1254.3 677.38,1346.71 682.76,1315.01 688.14,1349.2 693.52,1356.45 698.89,1333.66 704.27,1277.09 709.65,1353.34 715.03,1216.18 720.41,1370.33 725.79,1278.75 731.17,1235.24 736.55,1291.18 741.93,1322.68 747.31,1346.71 752.68,1223.22 758.06,1231.09 763.44,1353.34 768.82,1304.65 774.2,1321.23 779.58,1139.62 784.96,1280.82 790.34,1237.31 795.72,1333.66 801.1,1031.34 806.48,1345.47 811.85,1354.38 817.23,1277.71 822.61,1370.95 827.99,1307.34 833.37,1357.9 838.75,1337.8 844.13,1364.74 849.51,1347.13 854.89,1054.88 860.26,1348.16 865.64,1364.32 871.02,1322.68 876.4,1150.62 881.78,1364.12 887.16,1066.21 892.54,1307.34 897.92,1268.8 903.3,1359.14 908.68,1345.05 914.05,1303.2 919.43,1345.68 924.81,1319.78 930.19,1374.06 935.57,1339.87 940.95,1232.13 946.33,1280.82" fill="none" stroke="#000" stroke-width="1.2" stroke-linejoin="round"/><polyline points="139.48,1421.38 144.86,1427.3 150.24,1436.54 155.62,1431.36 161,1389.78 166.37,1436.17 171.75,1421.38 177.13,1425.08 182.51,1421.38 187.89,1422.31 193.27,1420.83 198.65,1432.29 204.03,1430.99 209.41,1402.72 214.78,1424.52 220.16,1398.28 225.54,1435.61 230.92,1409.74 236.3,1431.36 241.68,1402.72 247.06,1499.59 252.44,1409.74 257.82,1426.93 263.2,1413.99 268.57,1429.59 273.95,1420.06 279.33,1418.61 284.71,1423.38 290.09,1436.22 295.47,1418.61 300.85,1431.66 306.23,1420.68 311.61,1427.93 316.99,1417.57 322.37,1433.74 327.74,1435.19 333.12,1412.39 338.5,1425.86 343.88,1398.93 349.26,1433.74 354.64,1423.38 360.02,1433.74 365.4,1424.21 370.78,1473.52 376.15,1404.73 381.53,1425.45 386.91,1397.89 392.29,1427.52 397.67,1444.1 403.05,1419.65 408.43,1424.21 413.81,1423.38 419.19,1407.21 424.57,1421.3 429.94,1422.13 435.32,1443.47 440.7,1414.47 446.08,1417.57 451.46,1424.83 456.84,1426.28 462.22,1410.94 467.6,1416.54 472.98,1432.7 478.36,1411.36 483.74,1409.29 489.11,1425.86 494.49,1464.19 499.87,1410.94 505.25,1428.35 510.63,1420.06 516.01,1410.94 521.39,1428.56 526.77,1432.49 532.15,1430.42 537.52,1420.06 542.9,1415.09 548.28,1424.21 553.66,1416.54 559.04,1437.26 564.42,1420.68 569.8,1408.25 575.18,1405.14 580.56,1422.75 585.94,1384.84 591.31,1413.02 596.69,1438.92 602.07,1414.47 607.45,1438.92 612.83,1417.57 618.21,1448.65 623.59,1432.08 628.97,1447.62 634.35,1423.38 639.73,1418.61 645.1,1437.26 650.48,1414.47 655.86,1437.88 661.24,1422.96 666.62,1427.31 672,1411.77 677.38,1438.71 682.76,1437.26 688.14,1420.06 693.52,1414.47 698.89,1426.9 704.27,1398.93 709.65,1422.75 715.03,1416.54 720.41,1435.81 725.79,1420.06 731.17,1428.56 736.55,1411.77 741.93,1488.02 747.31,1415.92 752.68,1419.65 758.06,1419.23 763.44,1429.39 768.82,1420.06 774.2,1427.52 779.58,1431.04 784.96,1419.65 790.34,1414.88 795.72,1415.5 801.1,1425.45 806.48,1427.52 811.85,1416.54 817.23,1413.85 822.61,1415.5 827.99,1410.32 833.37,1416.54 838.75,1427.52 844.13,1422.13 849.51,1420.06 854.89,1411.77 860.26,1407.21 865.64,1518.93 871.02,1403.49 876.4,1434.15 881.78,1406.18 887.16,1419.03 892.54,1433.11 897.92,1436.64 903.3,1409.7 908.68,1413.85 914.05,1447.62 919.43,1427.52 924.81,1422.13 930.19,1406.18 935.57,1419.65 940.95,1413.43 946.33,1432.08" fill="none" stroke="#000" stroke-width="1.2" stroke-linejoin="round"/><polyline points="139.48,1611.2 144.86,1578.39 150.24,1586 155.62,1593.6 161,1576.39 166.37,1573.99 171.75,1572.49 177.13,1582.3 182.51,1574.49 187.89,1584.6 193.27,1580 198.65,1585.4 204.03,1576.79 209.41,1572.09 214.78,1574.49 220.16,1584.2 225.54,1587 230.92,1572.09 236.3,1583.4 241.68,1578.79 247.06,1574.79 252.44,1586.6 257.82,1590 263.2,1581.5 268.57,1580.3 273.95,1591.6 279.33,1579.5 284.71,1588.9 290.09,1578.39 295.47,1592.4 300.85,1574.79 306.23,1587.7 311.61,1591.25 316.99,1586.6 322.37,1585.4 327.74,1587.7 333.12,1581.1 338.5,1589.7 343.88,1583.4 349.26,1574.09 354.64,1583.8 360.02,1574.79 365.4,1571.29 370.78,1589.3 376.15,1577.59 381.53,1586.2 386.91,1572.09 392.29,1574.09 397.67,1595.2 403.05,1577.99 408.43,1581.5 413.81,1580.7 419.19,1574.49 424.57,1578.74 429.94,1578.99 435.32,1590.5 440.7,1568.59 446.08,1574.59 451.46,1587.7 456.84,1578.39 462.22,1584.6 467.6,1575.59 472.98,1585 478.36,1571.69 483.74,1586.6 489.11,1578.99 494.49,1570.99 499.87,1572.99 505.25,1587 510.63,1587 516.01,1587 521.39,1590.9 526.77,1576.79 532.15,1589.3 537.52,1584.1 542.9,1577.59 548.28,1566.59 553.66,1567.79 559.04,1581.5 564.42,1573.29 569.8,1568.59 575.18,1585.8 580.56,1571.69 585.94,1569.19 591.31,1573.29 596.69,1578.39 602.07,1586.2 607.45,1586.2 612.83,1572.49 618.21,1584.6 623.59,1585.8 628.97,1579.09 634.35,1583.4 639.73,1572.89 645.1,1593.6 650.48,1576.79 655.86,1574.49 661.24,1582.7 666.62,1565.89 672,1580.3 677.38,1589.7 682.76,1594.8 688.14,1574.09 693.52,1581.1 698.89,1585.8 704.27,1586.6 709.65,1586.2 715.03,1569.79 720.41,1578.74 725.79,1575.19 731.17,1593.2 736.55,1585.4 741.93,1590.9 747.31,1581.6 752.68,1572.49 758.06,1590.9 763.44,1578.39 768.82,1571.29 774.2,1574.09 779.58,1577.19 784.96,1571.29 790.34,1581.1 795.72,1568.19 801.1,1586.6 806.48,1574.09 811.85,1572.09 817.23,1569.79 822.61,1588.5 827.99,1572.49 833.37,1581.9 838.75,1567.39 844.13,1581.5 849.51,1577.99 854.89,1565.09 860.26,1570.49 865.64,1563.49 871.02,1580.7 876.4,1573.69 881.78,1577.19 887.16,1566.79 892.54,1578.19 897.92,1572.69 903.3,1567.59 908.68,1578.74 914.05,1580.3 919.43,1583.4 924.81,1583.8 930.19,1577.19 935.57,1577.99 940.95,1581.9 946.33,1578.74" fill="none" stroke="#000" stroke-width="4.8" stroke-linejoin="round"/></g>
<path d="M132.18 1215.33h14.6M139.48 1208.03v14.6M134.28 1210.13l10.4 10.4M134.28 1220.53l10.4 -10.4M137.56 1363.17h14.6M144.86 1355.87v14.6M139.66 1357.97l10.4 10.4M139.66 1368.37l10.4 -10.4M142.94 1348.2h14.6M150.24 1340.9v14.6M145.04 1343l10.4 10.4M145.04 1353.4l10.4 -10.4M148.32 1237.5h14.6M155.62 1230.2v14.6M150.42 1232.3l10.4 10.4M150.42 1242.7l10.4 -10.4M153.69 1357.99h14.6M161 1350.69v14.6M155.8 1352.79l10.4 10.4M155.8 1363.19l10.4 -10.4M159.07 1367.23h14.6M166.37 1359.93v14.6M161.17 1362.03l10.4 10.4M161.17 1372.43l10.4 -10.4M164.45 1265.22h14.6M171.75 1257.92v14.6M166.55 1260.02l10.4 10.4M166.55 1270.42l10.4 -10.4M169.83 1063.69h14.6M177.13 1056.39v14.6M171.93 1058.49l10.4 10.4M171.93 1068.89l10.4 -10.4M175.21 1103.68h14.6M182.51 1096.38v14.6M177.31 1098.48l10.4 10.4M177.31 1108.88l10.4 -10.4M180.59 1353h14.6M187.89 1345.7v14.6M182.69 1347.8l10.4 10.4M182.69 1358.2l10.4 -10.4M185.97 1297.01h14.6M193.27 1289.71v14.6M188.07 1291.81l10.4 10.4M188.07 1302.21l10.4 -10.4M191.35 1207.93h14.6M198.65 1200.63v14.6M193.45 1202.73l10.4 10.4M193.45 1213.13l10.4 -10.4M196.73 1350.6h14.6M204.03 1343.3v14.6M198.83 1345.4l10.4 10.4M198.83 1355.8l10.4 -10.4M202.11 1213.48h14.6M209.41 1206.18v14.6M204.21 1208.28l10.4 10.4M204.21 1218.68l10.4 -10.4M207.48 1276.68h14.6M214.78 1269.38v14.6M209.58 1271.48l10.4 10.4M209.58 1281.88l10.4 -10.4M212.86 1293.31h14.6M220.16 1286.01v14.6M214.96 1288.11l10.4 10.4M214.96 1298.51l10.4 -10.4M218.24 1241.57h14.6M225.54 1234.27v14.6M220.34 1236.37l10.4 10.4M220.34 1246.77l10.4 -10.4M223.62 1267.44h14.6M230.92 1260.14v14.6M225.72 1262.24l10.4 10.4M225.72 1272.64l10.4 -10.4M229 1248.59h14.6M236.3 1241.29v14.6M231.1 1243.39l10.4 10.4M231.1 1253.79l10.4 -10.4M234.38 1334.52h14.6M241.68 1327.22v14.6M236.48 1329.32l10.4 10.4M236.48 1339.72l10.4 -10.4M239.76 1392.18h14.6M247.06 1384.88v14.6M241.86 1386.98l10.4 10.4M241.86 1397.38l10.4 -10.4M245.14 988.65h14.6M252.44 981.35v14.6M247.24 983.45l10.4 10.4M247.24 993.85l10.4 -10.4M250.52 1364.46h14.6M257.82 1357.16v14.6M252.62 1359.26l10.4 10.4M252.62 1369.66l10.4 -10.4M255.9 1271.14h14.6M263.2 1263.84v14.6M258 1265.94l10.4 10.4M258 1276.34l10.4 -10.4M261.27 1345.47h14.6M268.57 1338.17v14.6M263.38 1340.27l10.4 10.4M263.38 1350.67l10.4 -10.4M266.65 1305.69h14.6M273.95 1298.39v14.6M268.75 1300.49l10.4 10.4M268.75 1310.89l10.4 -10.4M272.03 1227.36h14.6M279.33 1220.06v14.6M274.13 1222.16l10.4 10.4M274.13 1232.56l10.4 -10.4M277.41 1306.72h14.6M284.71 1299.42v14.6M279.51 1301.52l10.4 10.4M279.51 1311.92l10.4 -10.4M282.79 1364.74h14.6M290.09 1357.44v14.6M284.89 1359.54l10.4 10.4M284.89 1369.94l10.4 -10.4M288.17 1349.2h14.6M295.47 1341.9v14.6M290.27 1344l10.4 10.4M290.27 1354.4l10.4 -10.4M293.55 1336.77h14.6M300.85 1329.47v14.6M295.65 1331.57l10.4 10.4M295.65 1341.97l10.4 -10.4M298.93 1346.09h14.6M306.23 1338.79v14.6M301.03 1340.89l10.4 10.4M301.03 1351.29l10.4 -10.4M304.31 1359.97h14.6M311.61 1352.67v14.6M306.41 1354.77l10.4 10.4M306.41 1365.17l10.4 -10.4M309.69 1327.44h14.6M316.99 1320.14v14.6M311.79 1322.24l10.4 10.4M311.79 1332.64l10.4 -10.4M315.06 1311.49h14.6M322.37 1304.19v14.6M317.17 1306.29l10.4 10.4M317.17 1316.69l10.4 -10.4M320.44 1209.34h14.6M327.74 1202.04v14.6M322.54 1204.14l10.4 10.4M322.54 1214.54l10.4 -10.4M325.82 1351.27h14.6M333.12 1343.97v14.6M327.92 1346.07l10.4 10.4M327.92 1356.47l10.4 -10.4M331.2 1366.81h14.6M338.5 1359.51v14.6M333.3 1361.61l10.4 10.4M333.3 1372.01l10.4 -10.4M336.58 1279.79h14.6M343.88 1272.49v14.6M338.68 1274.59l10.4 10.4M338.68 1284.99l10.4 -10.4M341.96 1265.28h14.6M349.26 1257.98v14.6M344.06 1260.08l10.4 10.4M344.06 1270.48l10.4 -10.4M347.34 1354.38h14.6M354.64 1347.08v14.6M349.44 1349.18l10.4 10.4M349.44 1359.58l10.4 -10.4M352.72 1293.25h14.6M360.02 1285.95v14.6M354.82 1288.05l10.4 10.4M354.82 1298.45l10.4 -10.4M358.1 1267.98h14.6M365.4 1260.68v14.6M360.2 1262.78l10.4 10.4M360.2 1273.18l10.4 -10.4M363.48 975.17h14.6M370.78 967.87v14.6M365.58 969.97l10.4 10.4M365.58 980.37l10.4 -10.4M368.85 1267.35h14.6M376.15 1260.05v14.6M370.95 1262.15l10.4 10.4M370.95 1272.55l10.4 -10.4M374.23 1231.51h14.6M381.53 1224.21v14.6M376.33 1226.31l10.4 10.4M376.33 1236.71l10.4 -10.4M379.61 1274.61h14.6M386.91 1267.31v14.6M381.71 1269.41l10.4 10.4M381.71 1279.81l10.4 -10.4M384.99 1352.93h14.6M392.29 1345.63v14.6M387.09 1347.73l10.4 10.4M387.09 1358.13l10.4 -10.4M390.37 1359.56h14.6M397.67 1352.26v14.6M392.47 1354.36l10.4 10.4M392.47 1364.76l10.4 -10.4M395.75 1282.48h14.6M403.05 1275.18v14.6M397.85 1277.28l10.4 10.4M397.85 1287.68l10.4 -10.4M401.13 1354.38h14.6M408.43 1347.08v14.6M403.23 1349.18l10.4 10.4M403.23 1359.58l10.4 -10.4M406.51 1355.41h14.6M413.81 1348.11v14.6M408.61 1350.21l10.4 10.4M408.61 1360.61l10.4 -10.4M411.89 1333.66h14.6M419.19 1326.36v14.6M413.99 1328.46l10.4 10.4M413.99 1338.86l10.4 -10.4M417.27 1287.04h14.6M424.57 1279.74v14.6M419.37 1281.84l10.4 10.4M419.37 1292.24l10.4 -10.4M422.64 1340.91h14.6M429.94 1333.61v14.6M424.74 1335.71l10.4 10.4M424.74 1346.11l10.4 -10.4M428.02 1314.6h14.6M435.32 1307.3v14.6M430.12 1309.4l10.4 10.4M430.12 1319.8l10.4 -10.4M433.4 1201.05h14.6M440.7 1193.75v14.6M435.5 1195.85l10.4 10.4M435.5 1206.25l10.4 -10.4M438.78 1363.7h14.6M446.08 1356.4v14.6M440.88 1358.5l10.4 10.4M440.88 1368.9l10.4 -10.4M444.16 1346.09h14.6M451.46 1338.79v14.6M446.26 1340.89l10.4 10.4M446.26 1351.29l10.4 -10.4M449.54 1334.69h14.6M456.84 1327.39v14.6M451.64 1329.49l10.4 10.4M451.64 1339.89l10.4 -10.4M454.92 1353.34h14.6M462.22 1346.04v14.6M457.02 1348.14l10.4 10.4M457.02 1358.54l10.4 -10.4M460.3 1315.01h14.6M467.6 1307.71v14.6M462.4 1309.81l10.4 10.4M462.4 1320.21l10.4 -10.4M465.68 1323.3h14.6M472.98 1316v14.6M467.78 1318.1l10.4 10.4M467.78 1328.5l10.4 -10.4M471.06 1277.71h14.6M478.36 1270.41v14.6M473.16 1272.51l10.4 10.4M473.16 1282.91l10.4 -10.4M476.44 1402.03h14.6M483.74 1394.73v14.6M478.54 1396.83l10.4 10.4M478.54 1407.23l10.4 -10.4M481.81 1297.4h14.6M489.11 1290.1v14.6M483.91 1292.2l10.4 10.4M483.91 1302.6l10.4 -10.4M487.19 1179.71h14.6M494.49 1172.41v14.6M489.29 1174.51l10.4 10.4M489.29 1184.91l10.4 -10.4M492.57 1265.28h14.6M499.87 1257.98v14.6M494.67 1260.08l10.4 10.4M494.67 1270.48l10.4 -10.4M497.95 1199.39h14.6M505.25 1192.09v14.6M500.05 1194.19l10.4 10.4M500.05 1204.59l10.4 -10.4M503.33 1307.34h14.6M510.63 1300.04v14.6M505.43 1302.14l10.4 10.4M505.43 1312.54l10.4 -10.4M508.71 1299.06h14.6M516.01 1291.76v14.6M510.81 1293.86l10.4 10.4M510.81 1304.26l10.4 -10.4M514.09 1207.27h14.6M521.39 1199.97v14.6M516.19 1202.07l10.4 10.4M516.19 1212.47l10.4 -10.4M519.47 1194.21h14.6M526.77 1186.91v14.6M521.57 1189.01l10.4 10.4M521.57 1199.41l10.4 -10.4M524.85 1363.7h14.6M532.15 1356.4v14.6M526.95 1358.5l10.4 10.4M526.95 1368.9l10.4 -10.4M530.23 1302.58h14.6M537.52 1295.28v14.6M532.32 1297.38l10.4 10.4M532.32 1307.78l10.4 -10.4M535.6 1290.77h14.6M542.9 1283.47v14.6M537.7 1285.57l10.4 10.4M537.7 1295.97l10.4 -10.4M540.98 1287.45h14.6M548.28 1280.15v14.6M543.08 1282.25l10.4 10.4M543.08 1292.65l10.4 -10.4M546.36 1275.64h14.6M553.66 1268.34v14.6M548.46 1270.44l10.4 10.4M548.46 1280.84l10.4 -10.4M551.74 1283.93h14.6M559.04 1276.63v14.6M553.84 1278.73l10.4 10.4M553.84 1289.13l10.4 -10.4M557.12 1344.02h14.6M564.42 1336.72v14.6M559.22 1338.82l10.4 10.4M559.22 1349.22l10.4 -10.4M562.5 1236.9h14.6M569.8 1229.6v14.6M564.6 1231.7l10.4 10.4M564.6 1242.1l10.4 -10.4M567.88 1348.78h14.6M575.18 1341.48v14.6M569.98 1343.58l10.4 10.4M569.98 1353.98l10.4 -10.4M573.26 1345.05h14.6M580.56 1337.75v14.6M575.36 1339.85l10.4 10.4M575.36 1350.25l10.4 -10.4M578.64 1256.99h14.6M585.94 1249.69v14.6M580.74 1251.79l10.4 10.4M580.74 1262.19l10.4 -10.4M584.01 1127.26h14.6M591.31 1119.96v14.6M586.11 1122.06l10.4 10.4M586.11 1132.46l10.4 -10.4M589.39 1300.51h14.6M596.69 1293.21v14.6M591.49 1295.31l10.4 10.4M591.49 1305.71l10.4 -10.4M594.77 1368.88h14.6M602.07 1361.58v14.6M596.87 1363.68l10.4 10.4M596.87 1374.08l10.4 -10.4M600.15 1394.37h14.6M607.45 1387.07v14.6M602.25 1389.17l10.4 10.4M602.25 1399.57l10.4 -10.4M605.53 1362.04h14.6M612.83 1354.74v14.6M607.63 1356.84l10.4 10.4M607.63 1367.24l10.4 -10.4M610.91 1453.83h14.6M618.21 1446.53v14.6M613.01 1448.63l10.4 10.4M613.01 1459.03l10.4 -10.4M616.29 1348.16h14.6M623.59 1340.86v14.6M618.39 1342.96l10.4 10.4M618.39 1353.36l10.4 -10.4M621.67 1370.95h14.6M628.97 1363.65v14.6M623.77 1365.75l10.4 10.4M623.77 1376.15l10.4 -10.4M627.05 1265.9h14.6M634.35 1258.6v14.6M629.15 1260.7l10.4 10.4M629.15 1271.1l10.4 -10.4M632.43 1287.45h14.6M639.73 1280.15v14.6M634.53 1282.25l10.4 10.4M634.53 1292.65l10.4 -10.4M637.8 1303.61h14.6M645.1 1296.31v14.6M639.9 1298.41l10.4 10.4M639.9 1308.81l10.4 -10.4M643.18 1326.41h14.6M650.48 1319.11v14.6M645.28 1321.21l10.4 10.4M645.28 1331.61l10.4 -10.4M648.56 1395.82h14.6M655.86 1388.52v14.6M650.66 1390.62l10.4 10.4M650.66 1401.02l10.4 -10.4M653.94 1300.51h14.6M661.24 1293.21v14.6M656.04 1295.31l10.4 10.4M656.04 1305.71l10.4 -10.4M659.32 1253.47h14.6M666.62 1246.17v14.6M661.42 1248.27l10.4 10.4M661.42 1258.67l10.4 -10.4M664.7 1254.3h14.6M672 1247v14.6M666.8 1249.1l10.4 10.4M666.8 1259.5l10.4 -10.4M670.08 1346.71h14.6M677.38 1339.41v14.6M672.18 1341.51l10.4 10.4M672.18 1351.91l10.4 -10.4M675.46 1315.01h14.6M682.76 1307.71v14.6M677.56 1309.81l10.4 10.4M677.56 1320.21l10.4 -10.4M680.84 1349.2h14.6M688.14 1341.9v14.6M682.94 1344l10.4 10.4M682.94 1354.4l10.4 -10.4M686.22 1356.45h14.6M693.52 1349.15v14.6M688.32 1351.25l10.4 10.4M688.32 1361.65l10.4 -10.4M691.6 1333.66h14.6M698.89 1326.36v14.6M693.69 1328.46l10.4 10.4M693.69 1338.86l10.4 -10.4M696.97 1277.09h14.6M704.27 1269.79v14.6M699.07 1271.89l10.4 10.4M699.07 1282.29l10.4 -10.4M702.35 1353.34h14.6M709.65 1346.04v14.6M704.45 1348.14l10.4 10.4M704.45 1358.54l10.4 -10.4M707.73 1216.18h14.6M715.03 1208.88v14.6M709.83 1210.98l10.4 10.4M709.83 1221.38l10.4 -10.4M713.11 1370.33h14.6M720.41 1363.03v14.6M715.21 1365.13l10.4 10.4M715.21 1375.53l10.4 -10.4M718.49 1278.75h14.6M725.79 1271.45v14.6M720.59 1273.55l10.4 10.4M720.59 1283.95l10.4 -10.4M723.87 1235.24h14.6M731.17 1227.94v14.6M725.97 1230.04l10.4 10.4M725.97 1240.44l10.4 -10.4M729.25 1291.18h14.6M736.55 1283.88v14.6M731.35 1285.98l10.4 10.4M731.35 1296.38l10.4 -10.4M734.63 1322.68h14.6M741.93 1315.38v14.6M736.73 1317.48l10.4 10.4M736.73 1327.88l10.4 -10.4M740.01 1346.71h14.6M747.31 1339.41v14.6M742.11 1341.51l10.4 10.4M742.11 1351.91l10.4 -10.4M745.38 1223.22h14.6M752.68 1215.92v14.6M747.48 1218.02l10.4 10.4M747.48 1228.42l10.4 -10.4M750.76 1231.09h14.6M758.06 1223.79v14.6M752.86 1225.89l10.4 10.4M752.86 1236.29l10.4 -10.4M756.14 1353.34h14.6M763.44 1346.04v14.6M758.24 1348.14l10.4 10.4M758.24 1358.54l10.4 -10.4M761.52 1304.65h14.6M768.82 1297.35v14.6M763.62 1299.45l10.4 10.4M763.62 1309.85l10.4 -10.4M766.9 1321.23h14.6M774.2 1313.93v14.6M769 1316.03l10.4 10.4M769 1326.43l10.4 -10.4M772.28 1139.62h14.6M779.58 1132.32v14.6M774.38 1134.42l10.4 10.4M774.38 1144.82l10.4 -10.4M777.66 1280.82h14.6M784.96 1273.52v14.6M779.76 1275.62l10.4 10.4M779.76 1286.02l10.4 -10.4M783.04 1237.31h14.6M790.34 1230.01v14.6M785.14 1232.11l10.4 10.4M785.14 1242.51l10.4 -10.4M788.42 1333.66h14.6M795.72 1326.36v14.6M790.52 1328.46l10.4 10.4M790.52 1338.86l10.4 -10.4M793.8 1031.34h14.6M801.1 1024.04v14.6M795.9 1026.14l10.4 10.4M795.9 1036.54l10.4 -10.4M799.18 1345.47h14.6M806.48 1338.17v14.6M801.27 1340.27l10.4 10.4M801.27 1350.67l10.4 -10.4M804.55 1354.38h14.6M811.85 1347.08v14.6M806.65 1349.18l10.4 10.4M806.65 1359.58l10.4 -10.4M809.93 1277.71h14.6M817.23 1270.41v14.6M812.03 1272.51l10.4 10.4M812.03 1282.91l10.4 -10.4M815.31 1370.95h14.6M822.61 1363.65v14.6M817.41 1365.75l10.4 10.4M817.41 1376.15l10.4 -10.4M820.69 1307.34h14.6M827.99 1300.04v14.6M822.79 1302.14l10.4 10.4M822.79 1312.54l10.4 -10.4M826.07 1357.9h14.6M833.37 1350.6v14.6M828.17 1352.7l10.4 10.4M828.17 1363.1l10.4 -10.4M831.45 1337.8h14.6M838.75 1330.5v14.6M833.55 1332.6l10.4 10.4M833.55 1343l10.4 -10.4M836.83 1364.74h14.6M844.13 1357.44v14.6M838.93 1359.54l10.4 10.4M838.93 1369.94l10.4 -10.4M842.21 1347.13h14.6M849.51 1339.83v14.6M844.31 1341.93l10.4 10.4M844.31 1352.33l10.4 -10.4M847.59 1054.88h14.6M854.89 1047.58v14.6M849.69 1049.68l10.4 10.4M849.69 1060.08l10.4 -10.4M852.97 1348.16h14.6M860.26 1340.86v14.6M855.06 1342.96l10.4 10.4M855.06 1353.36l10.4 -10.4M858.34 1364.32h14.6M865.64 1357.02v14.6M860.44 1359.12l10.4 10.4M860.44 1369.52l10.4 -10.4M863.72 1322.68h14.6M871.02 1315.38v14.6M865.82 1317.48l10.4 10.4M865.82 1327.88l10.4 -10.4M869.1 1150.62h14.6M876.4 1143.32v14.6M871.2 1145.42l10.4 10.4M871.2 1155.82l10.4 -10.4M874.48 1364.12h14.6M881.78 1356.82v14.6M876.58 1358.92l10.4 10.4M876.58 1369.32l10.4 -10.4M879.86 1066.21h14.6M887.16 1058.91v14.6M881.96 1061.01l10.4 10.4M881.96 1071.41l10.4 -10.4M885.24 1307.34h14.6M892.54 1300.04v14.6M887.34 1302.14l10.4 10.4M887.34 1312.54l10.4 -10.4M890.62 1268.8h14.6M897.92 1261.5v14.6M892.72 1263.6l10.4 10.4M892.72 1274l10.4 -10.4M896 1359.14h14.6M903.3 1351.84v14.6M898.1 1353.94l10.4 10.4M898.1 1364.34l10.4 -10.4M901.38 1345.05h14.6M908.68 1337.75v14.6M903.48 1339.85l10.4 10.4M903.48 1350.25l10.4 -10.4M906.75 1303.2h14.6M914.05 1295.9v14.6M908.85 1298l10.4 10.4M908.85 1308.4l10.4 -10.4M912.13 1345.68h14.6M919.43 1338.38v14.6M914.23 1340.48l10.4 10.4M914.23 1350.88l10.4 -10.4M917.51 1319.78h14.6M924.81 1312.48v14.6M919.61 1314.58l10.4 10.4M919.61 1324.98l10.4 -10.4M922.89 1374.06h14.6M930.19 1366.76v14.6M924.99 1368.86l10.4 10.4M924.99 1379.26l10.4 -10.4M928.27 1339.87h14.6M935.57 1332.57v14.6M930.37 1334.67l10.4 10.4M930.37 1345.07l10.4 -10.4M933.65 1232.13h14.6M940.95 1224.83v14.6M935.75 1226.93l10.4 10.4M935.75 1237.33l10.4 -10.4M939.03 1280.82h14.6M946.33 1273.52v14.6M941.13 1275.62l10.4 10.4M941.13 1286.02l10.4 -10.4" stroke="#000" stroke-width="1.25" fill="none"/><g fill="#000"><circle cx="139.48" cy="1421.38" r="2.5"/><circle cx="144.86" cy="1427.3" r="2.5"/><circle cx="150.24" cy="1436.54" r="2.5"/><circle cx="155.62" cy="1431.36" r="2.5"/><circle cx="161" cy="1389.78" r="2.5"/><circle cx="166.37" cy="1436.17" r="2.5"/><circle cx="171.75" cy="1421.38" r="2.5"/><circle cx="177.13" cy="1425.08" r="2.5"/><circle cx="182.51" cy="1421.38" r="2.5"/><circle cx="187.89" cy="1422.31" r="2.5"/><circle cx="193.27" cy="1420.83" r="2.5"/><circle cx="198.65" cy="1432.29" r="2.5"/><circle cx="204.03" cy="1430.99" r="2.5"/><circle cx="209.41" cy="1402.72" r="2.5"/><circle cx="214.78" cy="1424.52" r="2.5"/><circle cx="220.16" cy="1398.28" r="2.5"/><circle cx="225.54" cy="1435.61" r="2.5"/><circle cx="230.92" cy="1409.74" r="2.5"/><circle cx="236.3" cy="1431.36" r="2.5"/><circle cx="241.68" cy="1402.72" r="2.5"/><circle cx="247.06" cy="1499.59" r="2.5"/><circle cx="252.44" cy="1409.74" r="2.5"/><circle cx="257.82" cy="1426.93" r="2.5"/><circle cx="263.2" cy="1413.99" r="2.5"/><circle cx="268.57" cy="1429.59" r="2.5"/><circle cx="273.95" cy="1420.06" r="2.5"/><circle cx="279.33" cy="1418.61" r="2.5"/><circle cx="284.71" cy="1423.38" r="2.5"/><circle cx="290.09" cy="1436.22" r="2.5"/><circle cx="295.47" cy="1418.61" r="2.5"/><circle cx="300.85" cy="1431.66" r="2.5"/><circle cx="306.23" cy="1420.68" r="2.5"/><circle cx="311.61" cy="1427.93" r="2.5"/><circle cx="316.99" cy="1417.57" r="2.5"/><circle cx="322.37" cy="1433.74" r="2.5"/><circle cx="327.74" cy="1435.19" r="2.5"/><circle cx="333.12" cy="1412.39" r="2.5"/><circle cx="338.5" cy="1425.86" r="2.5"/><circle cx="343.88" cy="1398.93" r="2.5"/><circle cx="349.26" cy="1433.74" r="2.5"/><circle cx="354.64" cy="1423.38" r="2.5"/><circle cx="360.02" cy="1433.74" r="2.5"/><circle cx="365.4" cy="1424.21" r="2.5"/><circle cx="370.78" cy="1473.52" r="2.5"/><circle cx="376.15" cy="1404.73" r="2.5"/><circle cx="381.53" cy="1425.45" r="2.5"/><circle cx="386.91" cy="1397.89" r="2.5"/><circle cx="392.29" cy="1427.52" r="2.5"/><circle cx="397.67" cy="1444.1" r="2.5"/><circle cx="403.05" cy="1419.65" r="2.5"/><circle cx="408.43" cy="1424.21" r="2.5"/><circle cx="413.81" cy="1423.38" r="2.5"/><circle cx="419.19" cy="1407.21" r="2.5"/><circle cx="424.57" cy="1421.3" r="2.5"/><circle cx="429.94" cy="1422.13" r="2.5"/><circle cx="435.32" cy="1443.47" r="2.5"/><circle cx="440.7" cy="1414.47" r="2.5"/><circle cx="446.08" cy="1417.57" r="2.5"/><circle cx="451.46" cy="1424.83" r="2.5"/><circle cx="456.84" cy="1426.28" r="2.5"/><circle cx="462.22" cy="1410.94" r="2.5"/><circle cx="467.6" cy="1416.54" r="2.5"/><circle cx="472.98" cy="1432.7" r="2.5"/><circle cx="478.36" cy="1411.36" r="2.5"/><circle cx="483.74" cy="1409.29" r="2.5"/><circle cx="489.11" cy="1425.86" r="2.5"/><circle cx="494.49" cy="1464.19" r="2.5"/><circle cx="499.87" cy="1410.94" r="2.5"/><circle cx="505.25" cy="1428.35" r="2.5"/><circle cx="510.63" cy="1420.06" r="2.5"/><circle cx="516.01" cy="1410.94" r="2.5"/><circle cx="521.39" cy="1428.56" r="2.5"/><circle cx="526.77" cy="1432.49" r="2.5"/><circle cx="532.15" cy="1430.42" r="2.5"/><circle cx="537.52" cy="1420.06" r="2.5"/><circle cx="542.9" cy="1415.09" r="2.5"/><circle cx="548.28" cy="1424.21" r="2.5"/><circle cx="553.66" cy="1416.54" r="2.5"/><circle cx="559.04" cy="1437.26" r="2.5"/><circle cx="564.42" cy="1420.68" r="2.5"/><circle cx="569.8" cy="1408.25" r="2.5"/><circle cx="575.18" cy="1405.14" r="2.5"/><circle cx="580.56" cy="1422.75" r="2.5"/><circle cx="585.94" cy="1384.84" r="2.5"/><circle cx="591.31" cy="1413.02" r="2.5"/><circle cx="596.69" cy="1438.92" r="2.5"/><circle cx="602.07" cy="1414.47" r="2.5"/><circle cx="607.45" cy="1438.92" r="2.5"/><circle cx="612.83" cy="1417.57" r="2.5"/><circle cx="618.21" cy="1448.65" r="2.5"/><circle cx="623.59" cy="1432.08" r="2.5"/><circle cx="628.97" cy="1447.62" r="2.5"/><circle cx="634.35" cy="1423.38" r="2.5"/><circle cx="639.73" cy="1418.61" r="2.5"/><circle cx="645.1" cy="1437.26" r="2.5"/><circle cx="650.48" cy="1414.47" r="2.5"/><circle cx="655.86" cy="1437.88" r="2.5"/><circle cx="661.24" cy="1422.96" r="2.5"/><circle cx="666.62" cy="1427.31" r="2.5"/><circle cx="672" cy="1411.77" r="2.5"/><circle cx="677.38" cy="1438.71" r="2.5"/><circle cx="682.76" cy="1437.26" r="2.5"/><circle cx="688.14" cy="1420.06" r="2.5"/><circle cx="693.52" cy="1414.47" r="2.5"/><circle cx="698.89" cy="1426.9" r="2.5"/><circle cx="704.27" cy="1398.93" r="2.5"/><circle cx="709.65" cy="1422.75" r="2.5"/><circle cx="715.03" cy="1416.54" r="2.5"/><circle cx="720.41" cy="1435.81" r="2.5"/><circle cx="725.79" cy="1420.06" r="2.5"/><circle cx="731.17" cy="1428.56" r="2.5"/><circle cx="736.55" cy="1411.77" r="2.5"/><circle cx="741.93" cy="1488.02" r="2.5"/><circle cx="747.31" cy="1415.92" r="2.5"/><circle cx="752.68" cy="1419.65" r="2.5"/><circle cx="758.06" cy="1419.23" r="2.5"/><circle cx="763.44" cy="1429.39" r="2.5"/><circle cx="768.82" cy="1420.06" r="2.5"/><circle cx="774.2" cy="1427.52" r="2.5"/><circle cx="779.58" cy="1431.04" r="2.5"/><circle cx="784.96" cy="1419.65" r="2.5"/><circle cx="790.34" cy="1414.88" r="2.5"/><circle cx="795.72" cy="1415.5" r="2.5"/><circle cx="801.1" cy="1425.45" r="2.5"/><circle cx="806.48" cy="1427.52" r="2.5"/><circle cx="811.85" cy="1416.54" r="2.5"/><circle cx="817.23" cy="1413.85" r="2.5"/><circle cx="822.61" cy="1415.5" r="2.5"/><circle cx="827.99" cy="1410.32" r="2.5"/><circle cx="833.37" cy="1416.54" r="2.5"/><circle cx="838.75" cy="1427.52" r="2.5"/><circle cx="844.13" cy="1422.13" r="2.5"/><circle cx="849.51" cy="1420.06" r="2.5"/><circle cx="854.89" cy="1411.77" r="2.5"/><circle cx="860.26" cy="1407.21" r="2.5"/><circle cx="865.64" cy="1518.93" r="2.5"/><circle cx="871.02" cy="1403.49" r="2.5"/><circle cx="876.4" cy="1434.15" r="2.5"/><circle cx="881.78" cy="1406.18" r="2.5"/><circle cx="887.16" cy="1419.03" r="2.5"/><circle cx="892.54" cy="1433.11" r="2.5"/><circle cx="897.92" cy="1436.64" r="2.5"/><circle cx="903.3" cy="1409.7" r="2.5"/><circle cx="908.68" cy="1413.85" r="2.5"/><circle cx="914.05" cy="1447.62" r="2.5"/><circle cx="919.43" cy="1427.52" r="2.5"/><circle cx="924.81" cy="1422.13" r="2.5"/><circle cx="930.19" cy="1406.18" r="2.5"/><circle cx="935.57" cy="1419.65" r="2.5"/><circle cx="940.95" cy="1413.43" r="2.5"/><circle cx="946.33" cy="1432.08" r="2.5"/></g>
<rect x="521.7" y="869.8" width="487" height="148.7" fill="#fff" stroke="#222" stroke-width="1.3"/><path d="M536.7 897.7H612.2M536.7 944.1H612.2" stroke="#000" stroke-width="1.4"/><path d="M567.1 897.7h14.6M574.4 890.4v14.6M569.2 892.5l10.4 10.4M569.2 902.9l10.4 -10.4" stroke="#000" stroke-width="1.25" fill="none"/><circle cx="574.4" cy="944.1" r="2.5" fill="#000"/><path d="M536.7 990.6H612.2" stroke="#000" stroke-width="5"/><text transform="translate(618.7 910.2) scale(1 1.04)" font-size="35.3">Centralized client/server</text><text transform="translate(618.7 956.6) scale(1 1.04)" font-size="35.3">Distributed client/server</text><text transform="translate(618.7 1003.1) scale(1 1.04)" font-size="35.3">Distributed P2P</text>
</svg></body></html>
